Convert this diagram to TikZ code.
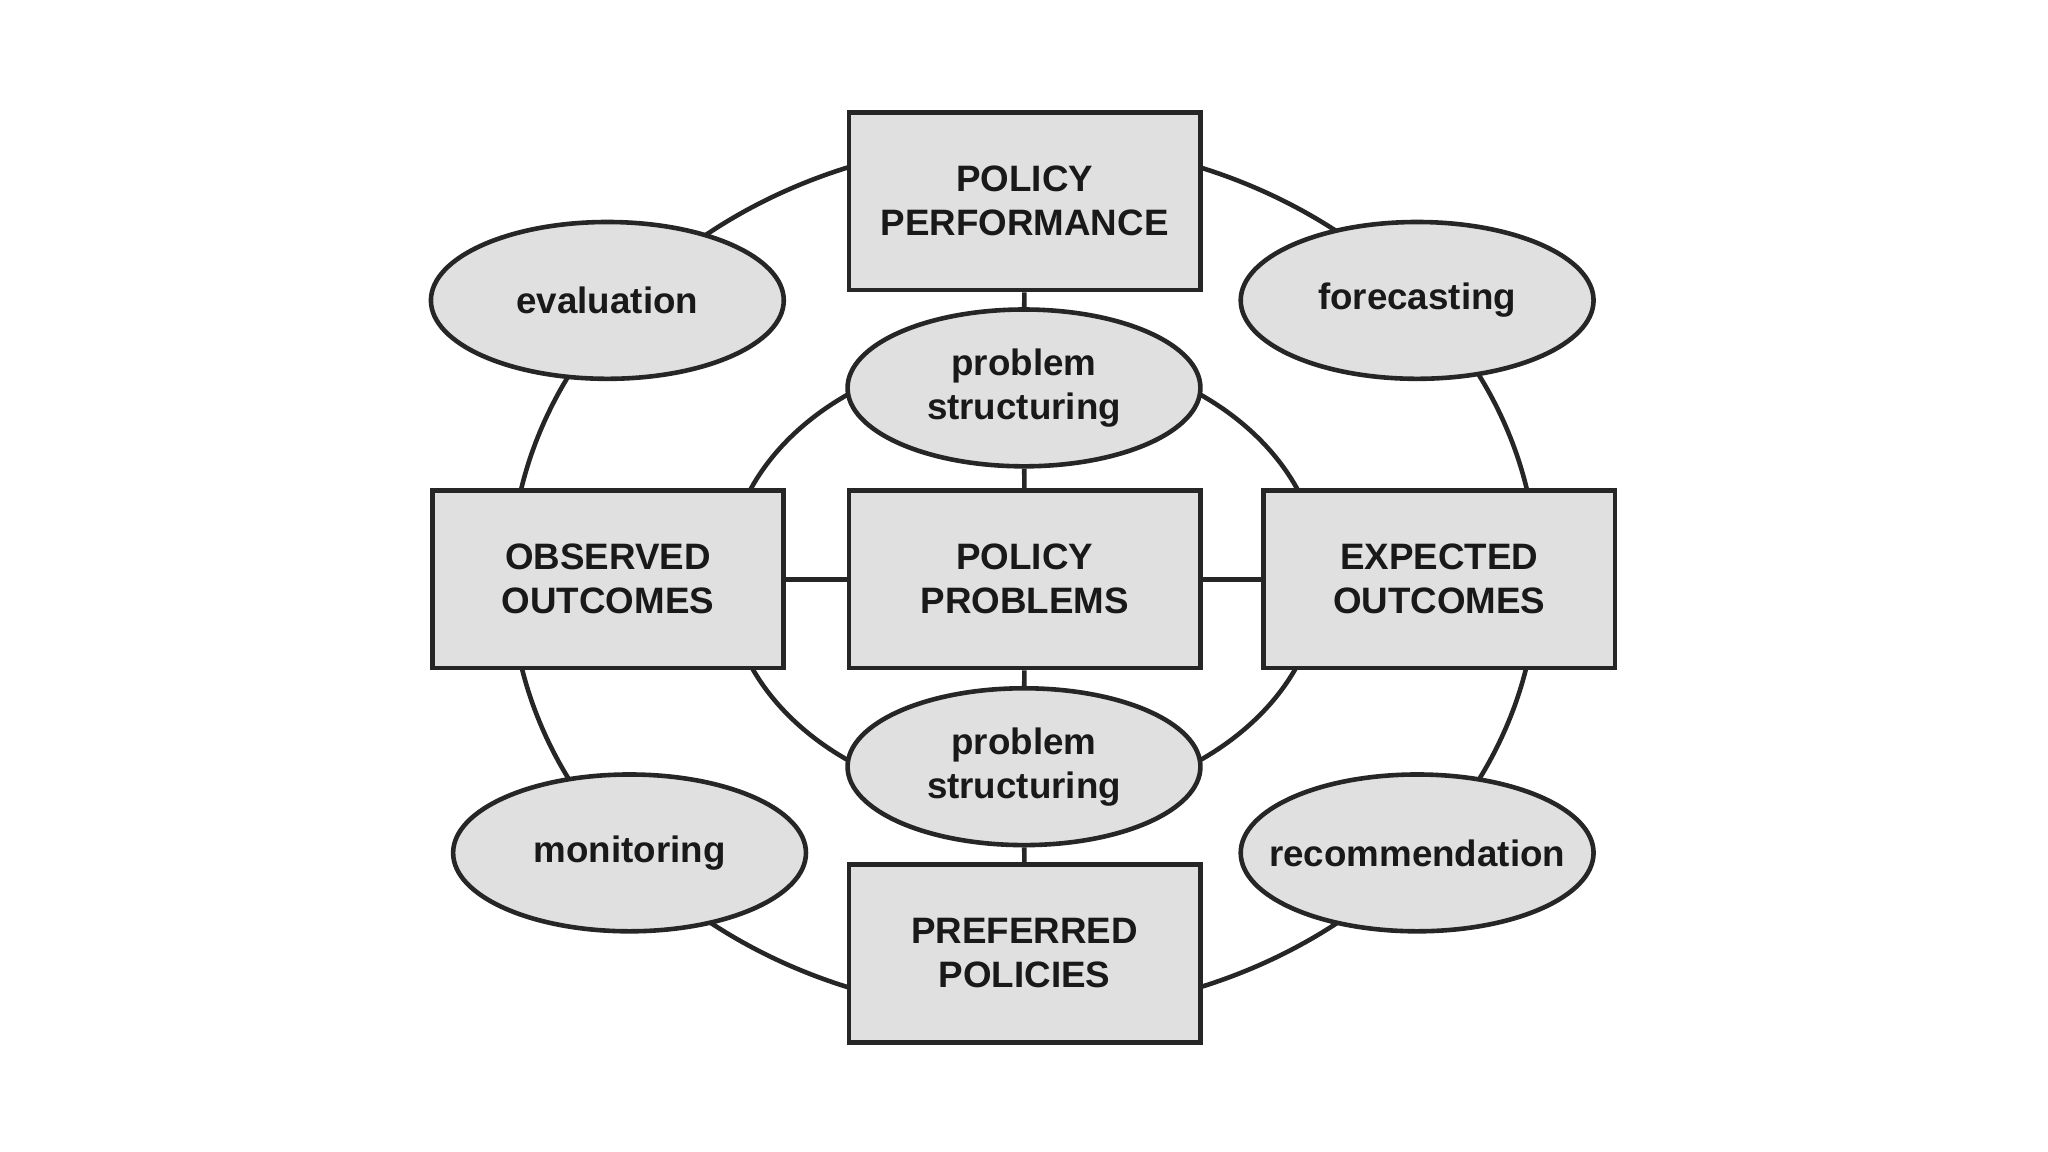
\documentclass[tikz,border=0pt]{standalone}
\usepackage{fontspec}
\setmainfont{Liberation Sans}
\usetikzlibrary{shapes.geometric}
\definecolor{boxgray}{HTML}{E0E0E0}
\begin{document}
\begin{tikzpicture}[x=0.01cm,y=-0.01cm,
  every node/.style={font=\fontsize{8}{9.6}\selectfont\bfseries, align=center, text=black!90},
  box/.style={draw=black!85, line width=1pt, fill=boxgray, minimum width=2.69cm, minimum height=1.36cm, inner sep=0pt},
  ell/.style={ellipse, draw=black!85, line width=1pt, fill=boxgray, minimum width=2.7cm, minimum height=1.2cm, inner sep=0pt},
  link/.style={line width=1pt, draw=black!85}]
\useasboundingbox (0,0) rectangle (1568,882);
\draw[link] (784,442) ellipse [x radius=393, y radius=334];
\draw[link] (784,442) ellipse [x radius=227, y radius=174];
\node[box] (perf) at (784.5,154) {POLICY\\PERFORMANCE};
\node[box] (obs) at (465.5,443.5) {OBSERVED\\OUTCOMES};
\node[box] (prob) at (784.5,443.5) {POLICY\\PROBLEMS};
\node[box] (exp) at (1102,443.5) {EXPECTED\\OUTCOMES};
\node[box] (pref) at (784.5,730) {PREFERRED\\POLICIES};
\node[ell] (eval) at (465,230) {evaluation};
\node[ell] (fore) at (1085,230) {forecasting};
\node[ell] (mon) at (482,653) {monitoring};
\node[ell, inner xsep=-0.45cm] (rec) at (1085,653) {recommendation};
\node[ell] (ps1) at (784,297) {problem\\structuring};
\node[ell] (ps2) at (784,587) {problem\\structuring};
\draw[link] (perf) -- (ps1);
\draw[link] (ps1) -- (prob);
\draw[link] (prob) -- (ps2);
\draw[link] (ps2) -- (pref);
\draw[link] (obs) -- (prob);
\draw[link] (prob) -- (exp);
\end{tikzpicture}
\end{document}
